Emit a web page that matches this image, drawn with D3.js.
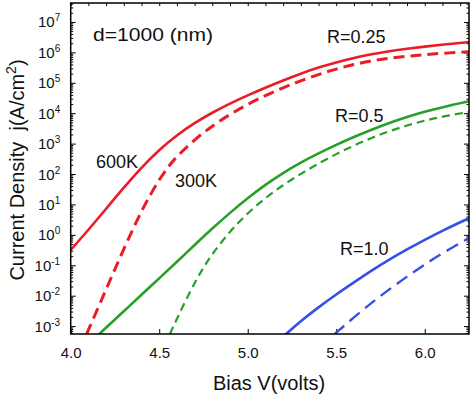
<!DOCTYPE html>
<html>
<head>
<meta charset="utf-8">
<script src="https://cdn.jsdelivr.net/npm/d3@7"></script>
<style>
  body { margin: 0; background: #fff; }
  svg { display: block; font-family: "Liberation Sans", Arial, sans-serif; }
</style>
</head>
<body>
<script>
// bias V (volts) and current density j (A/cm^2)
var vR025_600 = [4.0, 4.1, 4.2, 4.3, 4.4, 4.5, 4.6, 4.7, 4.8, 4.9, 5.0, 5.1, 5.2, 5.3, 5.4, 5.5, 5.6, 5.7, 5.8, 5.9, 6.0, 6.1, 6.25];
var jR025_600 = [0.32, 1.45, 7.2, 36, 166, 630, 1900, 4800, 1.05e4, 2.1e4, 3.9e4, 6.9e4, 1.2e5, 2.0e5, 3.2e5, 4.7e5, 6.6e5, 8.7e5, 1.1e6, 1.32e6, 1.55e6, 1.8e6, 2.19e6];

var vR025_300 = [4.09, 4.15, 4.2, 4.25, 4.3, 4.35, 4.4, 4.45, 4.5, 4.55, 4.6, 4.7, 4.8, 4.9, 5.0, 5.1, 5.2, 5.3, 5.4, 5.5, 5.6, 5.7, 5.8, 5.9, 6.0, 6.1, 6.25];
var jR025_300 = [5.5e-4, 3.47e-3, 1.62e-2, 7.5e-2, 0.343, 1.5, 5.96, 21.1, 65.3, 172, 385, 1365, 3850, 9230, 1.97e4, 3.85e4, 6.92e4, 1.175e5, 1.88e5, 2.85e5, 4.03e5, 5.31e5, 6.46e5, 7.41e5, 8.51e5, 9.33e5, 1.05e6];

var vR05_600 = [4.16, 4.2, 4.3, 4.4, 4.5, 4.6, 4.7, 4.8, 4.9, 5.0, 5.1, 5.2, 5.3, 5.4, 5.5, 5.6, 5.7, 5.8, 5.9, 6.0, 6.1, 6.25];
var jR05_600 = [5.37e-4, 8.9e-4, 3.09e-3, 1.07e-2, 3.72e-2, 0.129, 0.468, 1.62, 5.37, 16.2, 44.7, 110, 240, 479, 912, 1660, 2880, 4790, 7590, 1.12e4, 1.58e4, 2.45e4];

var vR05_300 = [4.56, 4.6, 4.65, 4.7, 4.75, 4.8, 4.9, 5.0, 5.1, 5.2, 5.3, 5.4, 5.5, 5.6, 5.7, 5.8, 5.9, 6.0, 6.1, 6.25];
var jR05_300 = [5.5e-4, 1.74e-3, 7.08e-3, 2.63e-2, 8.51e-2, 0.24, 1.32, 5.25, 16.6, 43.7, 102, 224, 457, 871, 1550, 2570, 3980, 5750, 7760, 1.1e4];

var vR10_600 = [5.21, 5.3, 5.4, 5.5, 5.6, 5.7, 5.8, 5.9, 6.0, 6.1, 6.25];
var jR10_600 = [5.1e-4, 1.48e-3, 4.17e-3, 1.11e-2, 2.75e-2, 6.76e-2, 0.155, 0.335, 0.692, 1.38, 3.55];

var vR10_300 = [5.49, 5.6, 5.7, 5.8, 5.9, 6.0, 6.1, 6.25];
var jR10_300 = [5.4e-4, 1.95e-3, 5.89e-3, 1.62e-2, 4.27e-2, 0.107, 0.251, 0.794];

var xTicks = [4.0, 4.5, 5.0, 5.5, 6.0];
var yTickExps = [-3, -2, -1, 0, 1, 2, 3, 4, 5, 6, 7];

var W = 474, H = 398;
var RED = '#ea1d25', GREEN = '#27a027', BLUE = '#3650e8';

var series = [
  { v: vR025_600, j: jR025_600, color: RED, width: 2.6, dash: null },
  { v: vR025_300, j: jR025_300, color: RED, width: 3, dash: '11,6' },
  { v: vR05_600, j: jR05_600, color: GREEN, width: 2.6, dash: null },
  { v: vR05_300, j: jR05_300, color: GREEN, width: 2.2, dash: '8,5' },
  { v: vR10_600, j: jR10_600, color: BLUE, width: 2.6, dash: null },
  { v: vR10_300, j: jR10_300, color: BLUE, width: 2.4, dash: '13,7' }
];

var x = d3.scaleLinear().domain([4.0, 6.25]).range([70.7, 469]);
var y = d3.scaleLog().domain([5.5e-4, 4.2e7]).range([334, 3]);

var svg = d3.select('body').append('svg')
  .attr('width', W)
  .attr('height', H);

svg.append('clipPath').attr('id', 'plot')
  .append('rect')
    .attr('x', x.range()[0])
    .attr('y', y.range()[1])
    .attr('width', x.range()[1] - x.range()[0])
    .attr('height', y.range()[0] - y.range()[1]);

// log minor ticks 2..9 per decade
var minor = [];
for (var e = -4; e <= 7; e++) {
  for (var m = 2; m <= 9; m++) {
    var val = m * Math.pow(10, e);
    if (val > y.domain()[0] && val < y.domain()[1]) minor.push(val);
  }
}
var major = yTickExps.map(function(k) { return Math.pow(10, k); });

function styleAxis(g) {
  g.select('.domain').remove();
  g.selectAll('.tick line').attr('stroke', '#000').attr('stroke-width', 1);
}

// bottom
svg.append('g')
  .attr('transform', 'translate(0,' + y.range()[0] + ')')
  .call(d3.axisBottom(x).tickValues(xTicks).tickSizeInner(-5).tickSizeOuter(0)
    .tickPadding(13).tickFormat(d3.format('.1f')))
  .call(styleAxis)
  .selectAll('text')
    .attr('font-size', 15)
    .attr('font-family', '"Liberation Sans", Arial, sans-serif')
    .attr('fill', '#111');

// top: small ticks every 0.1
svg.append('g')
  .attr('transform', 'translate(0,' + y.range()[1] + ')')
  .call(d3.axisTop(x).ticks(22).tickSizeInner(-3).tickSizeOuter(0).tickFormat(''))
  .call(styleAxis);

// left / right
[['left', x.range()[0]], ['right', x.range()[1]]].forEach(function(side) {
  var mk = side[0] === 'left' ? d3.axisLeft : d3.axisRight;
  svg.append('g')
    .attr('transform', 'translate(' + side[1] + ',0)')
    .call(mk(y).tickValues(major).tickSizeInner(-5).tickSizeOuter(0).tickFormat(''))
    .call(styleAxis);
  svg.append('g')
    .attr('transform', 'translate(' + side[1] + ',0)')
    .call(mk(y).tickValues(minor).tickSizeInner(-2.5).tickSizeOuter(0).tickFormat(''))
    .call(styleAxis);
});

// y tick labels 10^n
var yl = svg.append('g').selectAll('text')
    .data(yTickExps)
  .enter().append('text')
    .attr('x', x.range()[0] - 10.5)
    .attr('y', function(d) { return y(Math.pow(10, d)) + 5.5; })
    .attr('text-anchor', 'end')
    .attr('font-size', 15)
    .attr('fill', '#111');
yl.append('tspan').text('10');
yl.append('tspan')
  .attr('dy', -6)
  .attr('font-size', 10)
  .text(function(d) { return String(d); });

// curves
var line = d3.line()
  .x(function(d) { return x(d[0]); })
  .y(function(d) { return y(d[1]); })
  .curve(d3.curveBasis);

svg.append('g').attr('clip-path', 'url(#plot)')
  .selectAll('path')
    .data(series)
  .enter().append('path')
    .attr('d', function(s) { return line(d3.zip(s.v, s.j)); })
    .attr('fill', 'none')
    .attr('stroke', function(s) { return s.color; })
    .attr('stroke-width', function(s) { return s.width; })
    .attr('stroke-dasharray', function(s) { return s.dash; });

// frame
svg.append('rect')
  .attr('x', x.range()[0])
  .attr('y', y.range()[1])
  .attr('width', x.range()[1] - x.range()[0])
  .attr('height', y.range()[0] - y.range()[1])
  .attr('fill', 'none')
  .attr('stroke', '#000')
  .attr('stroke-width', 1.5);

// annotations
var notes = [
  { t: 'd=1000 (nm)', x: 93, y: 41, size: 19, len: 120 },
  { t: 'R=0.25', x: 327, y: 43 },
  { t: 'R=0.5', x: 335, y: 122 },
  { t: 'R=1.0', x: 340, y: 255 },
  { t: '600K', x: 96, y: 168 },
  { t: '300K', x: 175, y: 187 }
];
svg.append('g').selectAll('text')
    .data(notes)
  .enter().append('text')
    .attr('x', function(d) { return d.x; })
    .attr('y', function(d) { return d.y; })
    .attr('font-size', function(d) { return d.size || 18; })
    .attr('fill', '#111')
    .attr('textLength', function(d) { return d.len || null; })
    .attr('lengthAdjust', function(d) { return d.len ? 'spacingAndGlyphs' : null; })
    .text(function(d) { return d.t; });

// axis titles
svg.append('text')
  .attr('x', 269)
  .attr('y', 390)
  .attr('text-anchor', 'middle')
  .attr('font-size', 20)
  .attr('fill', '#111')
  .text('Bias V(volts)');

var yt = svg.append('text')
  .attr('transform', 'translate(24,170) rotate(-90)')
  .attr('text-anchor', 'middle')
  .attr('font-size', 20)
  .attr('fill', '#111');
yt.append('tspan').text('Current Density\u00a0 j(A/cm');
yt.append('tspan').attr('dy', -8).attr('font-size', 14).text('2');
yt.append('tspan').attr('dy', 8).text(')');
</script>
</body>
</html>
